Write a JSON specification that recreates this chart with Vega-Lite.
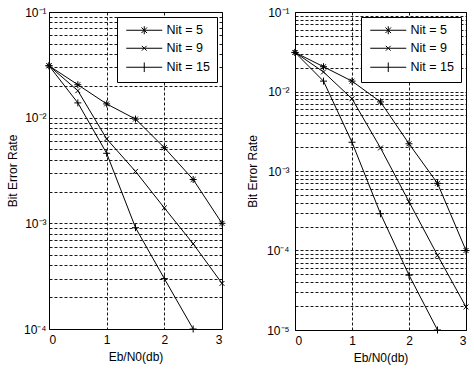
{
  "$schema": "https://vega.github.io/schema/vega-lite/v6.json",
  "background": "white",
  "padding": {"left": 5, "top": 5, "right": 5, "bottom": 5},
  "spacing": 17,
  "config": {
    "font": "Liberation Sans",
    "view": {"stroke": "black", "strokeWidth": 1},
    "axis": {
      "labelFont": "Liberation Sans", "labelFontSize": 12, "labelColor": "black",
      "titleFont": "Liberation Sans", "titleFontSize": 12, "titleFontWeight": "normal", "titleColor": "black",
      "grid": true, "gridColor": "black", "gridDash": [3, 2], "gridOpacity": 0.9, "gridWidth": 1,
      "domain": false, "ticks": false, "labelPadding": 3, "titlePadding": 4
    },
    "axisX": {"labelPadding": 5, "titlePadding": 6},
    "legend": {
      "title": null, "orient": "top-right",
      "labelFont": "Liberation Sans", "labelFontSize": 12.5, "labelColor": "black",
      "strokeColor": "black", "fillColor": "white", "padding": 7, "rowPadding": 5,
      "symbolSize": 64, "symbolStrokeColor": "black", "symbolStrokeWidth": 1, "symbolFillColor": "transparent",
      "labelOffset": 30
    }
  },
  "datasets": {
    "left": [
      {"x": 0, "ber": 0.031, "nit": "Nit = 5"},
      {"x": 0.5, "ber": 0.0205, "nit": "Nit = 5"},
      {"x": 1, "ber": 0.0135, "nit": "Nit = 5"},
      {"x": 1.5, "ber": 0.0097, "nit": "Nit = 5"},
      {"x": 2, "ber": 0.0052, "nit": "Nit = 5"},
      {"x": 2.5, "ber": 0.0026, "nit": "Nit = 5"},
      {"x": 3, "ber": 0.001, "nit": "Nit = 5"},
      {"x": 0, "ber": 0.031, "nit": "Nit = 9"},
      {"x": 0.5, "ber": 0.018, "nit": "Nit = 9"},
      {"x": 1, "ber": 0.0063, "nit": "Nit = 9"},
      {"x": 1.5, "ber": 0.0031, "nit": "Nit = 9"},
      {"x": 2, "ber": 0.0014, "nit": "Nit = 9"},
      {"x": 2.5, "ber": 0.00064, "nit": "Nit = 9"},
      {"x": 3, "ber": 0.00027, "nit": "Nit = 9"},
      {"x": 0, "ber": 0.031, "nit": "Nit = 15"},
      {"x": 0.5, "ber": 0.0138, "nit": "Nit = 15"},
      {"x": 1, "ber": 0.0046, "nit": "Nit = 15"},
      {"x": 1.5, "ber": 0.00091, "nit": "Nit = 15"},
      {"x": 2, "ber": 0.0003, "nit": "Nit = 15"},
      {"x": 2.5, "ber": 0.0001, "nit": "Nit = 15"}
    ],
    "right": [
      {"x": 0, "ber": 0.031, "nit": "Nit = 5"},
      {"x": 0.5, "ber": 0.0205, "nit": "Nit = 5"},
      {"x": 1, "ber": 0.0135, "nit": "Nit = 5"},
      {"x": 1.5, "ber": 0.0074, "nit": "Nit = 5"},
      {"x": 2, "ber": 0.0022, "nit": "Nit = 5"},
      {"x": 2.5, "ber": 0.0007, "nit": "Nit = 5"},
      {"x": 3, "ber": 0.0001, "nit": "Nit = 5"},
      {"x": 0, "ber": 0.031, "nit": "Nit = 9"},
      {"x": 0.5, "ber": 0.0176, "nit": "Nit = 9"},
      {"x": 1, "ber": 0.0081, "nit": "Nit = 9"},
      {"x": 1.5, "ber": 0.00195, "nit": "Nit = 9"},
      {"x": 2, "ber": 0.00041, "nit": "Nit = 9"},
      {"x": 2.5, "ber": 0.000087, "nit": "Nit = 9"},
      {"x": 3, "ber": 0.0000195, "nit": "Nit = 9"},
      {"x": 0, "ber": 0.031, "nit": "Nit = 15"},
      {"x": 0.5, "ber": 0.0135, "nit": "Nit = 15"},
      {"x": 1, "ber": 0.0023, "nit": "Nit = 15"},
      {"x": 1.5, "ber": 0.00029, "nit": "Nit = 15"},
      {"x": 2, "ber": 0.000049, "nit": "Nit = 15"},
      {"x": 2.5, "ber": 0.00001, "nit": "Nit = 15"}
    ]
  },
  "resolve": {
    "scale": {"x": "independent", "y": "independent", "shape": "independent"},
    "legend": {"shape": "independent"}
  },
  "hconcat": [
    {
      "width": 173, "height": 317,
      "data": {"name": "left"},
      "resolve": {"scale": {"shape": "independent"}, "legend": {"shape": "independent"}},
      "encoding": {
        "x": {"field": "x", "type": "quantitative", "scale": {"domain": [0, 3], "nice": false, "zero": false},
              "axis": {"title": "Eb/N0(db)", "values": [0, 1, 2, 3], "format": "d"}},
        "y": {"field": "ber", "type": "quantitative", "scale": {"type": "log", "domain": [0.0001, 0.1], "nice": false},
              "axis": {"title": "Bit Error Rate", "labelOverlap": false,
                       "values": [0.1, 0.09, 0.08, 0.07, 0.06, 0.05, 0.04, 0.03, 0.02, 0.01, 0.009, 0.008, 0.007, 0.006, 0.005, 0.004, 0.003, 0.002, 0.001, 0.0009, 0.0008, 0.0007, 0.0006, 0.0005, 0.0004, 0.0003, 0.0002, 0.0001],
                       "labelExpr": "datum.value > 0.09 && datum.value < 0.11 ? '10⁻¹' : datum.value > 0.0095 && datum.value < 0.0105 ? '10⁻²' : datum.value > 0.00095 && datum.value < 0.00105 ? '10⁻³' : datum.value > 0.000095 && datum.value < 0.000105 ? '10⁻⁴' : datum.value > 0.0000095 && datum.value < 0.0000105 ? '10⁻⁵' : ''"}}
      },
      "layer": [
        {"mark": {"type": "line", "color": "black", "strokeWidth": 1}, "encoding": {"detail": {"field": "nit"}}},
        {"mark": {"type": "point", "filled": false, "color": "black", "strokeWidth": 1, "size": 49, "opacity": 1},
         "encoding": {"shape": {"field": "nit", "type": "nominal", "legend": null,
           "scale": {"domain": ["Nit = 5", "Nit = 9", "Nit = 15"],
                     "range": ["M-1,0L1,0M0,-1L0,1M-0.7,-0.7L0.7,0.7M-0.7,0.7L0.7,-0.7", "M-0.7,-0.7L0.7,0.7M-0.7,0.7L0.7,-0.7", "M-1,0L1,0M0,-1L0,1"]}}}},
        {"transform": [{"filter": "datum.x < 0"}],
         "mark": {"type": "point", "filled": false, "color": "black", "strokeWidth": 1, "size": 64, "opacity": 1},
         "encoding": {"shape": {"field": "nit", "type": "nominal",
           "scale": {"domain": ["Nit = 5", "Nit = 9", "Nit = 15"],
                     "range": ["M-1,0L8,0M3.5,-1L3.5,1M2.8,-0.7L4.2,0.7M2.8,0.7L4.2,-0.7", "M-1,0L8,0M2.9,-0.6L4.1,0.6M2.9,0.6L4.1,-0.6", "M-1,0L8,0M3.5,-1.2L3.5,1.2"]},
           "legend": {"offset": 5}}}}
      ]
    },
    {
      "width": 171, "height": 318,
      "data": {"name": "right"},
      "resolve": {"scale": {"shape": "independent"}, "legend": {"shape": "independent"}},
      "encoding": {
        "x": {"field": "x", "type": "quantitative", "scale": {"domain": [0, 3], "nice": false, "zero": false},
              "axis": {"title": "Eb/N0(db)", "values": [0, 1, 2, 3], "format": "d"}},
        "y": {"field": "ber", "type": "quantitative", "scale": {"type": "log", "domain": [0.00001, 0.1], "nice": false},
              "axis": {"title": "Bit Error Rate", "labelOverlap": false, "labelPadding": 6, "titlePadding": 7,
                       "values": [0.1, 0.09, 0.08, 0.07, 0.06, 0.05, 0.04, 0.03, 0.02, 0.01, 0.009, 0.008, 0.007, 0.006, 0.005, 0.004, 0.003, 0.002, 0.001, 0.0009, 0.0008, 0.0007, 0.0006, 0.0005, 0.0004, 0.0003, 0.0002, 0.0001, 0.00009, 0.00008, 0.00007, 0.00006, 0.00005, 0.00004, 0.00003, 0.00002, 0.00001],
                       "labelExpr": "datum.value > 0.09 && datum.value < 0.11 ? '10⁻¹' : datum.value > 0.0095 && datum.value < 0.0105 ? '10⁻²' : datum.value > 0.00095 && datum.value < 0.00105 ? '10⁻³' : datum.value > 0.000095 && datum.value < 0.000105 ? '10⁻⁴' : datum.value > 0.0000095 && datum.value < 0.0000105 ? '10⁻⁵' : ''"}}
      },
      "layer": [
        {"mark": {"type": "line", "color": "black", "strokeWidth": 1}, "encoding": {"detail": {"field": "nit"}}},
        {"mark": {"type": "point", "filled": false, "color": "black", "strokeWidth": 1, "size": 49, "opacity": 1},
         "encoding": {"shape": {"field": "nit", "type": "nominal", "legend": null,
           "scale": {"domain": ["Nit = 5", "Nit = 9", "Nit = 15"],
                     "range": ["M-1,0L1,0M0,-1L0,1M-0.7,-0.7L0.7,0.7M-0.7,0.7L0.7,-0.7", "M-0.7,-0.7L0.7,0.7M-0.7,0.7L0.7,-0.7", "M-1,0L1,0M0,-1L0,1"]}}}},
        {"transform": [{"filter": "datum.x < 0"}],
         "mark": {"type": "point", "filled": false, "color": "black", "strokeWidth": 1, "size": 64, "opacity": 1},
         "encoding": {"shape": {"field": "nit", "type": "nominal",
           "scale": {"domain": ["Nit = 5", "Nit = 9", "Nit = 15"],
                     "range": ["M-1,0L8,0M3.5,-1L3.5,1M2.8,-0.7L4.2,0.7M2.8,0.7L4.2,-0.7", "M-1,0L8,0M2.9,-0.6L4.1,0.6M2.9,0.6L4.1,-0.6", "M-1,0L8,0M3.5,-1.2L3.5,1.2"]},
           "legend": {"offset": 5}}}}
      ]
    }
  ]
}
